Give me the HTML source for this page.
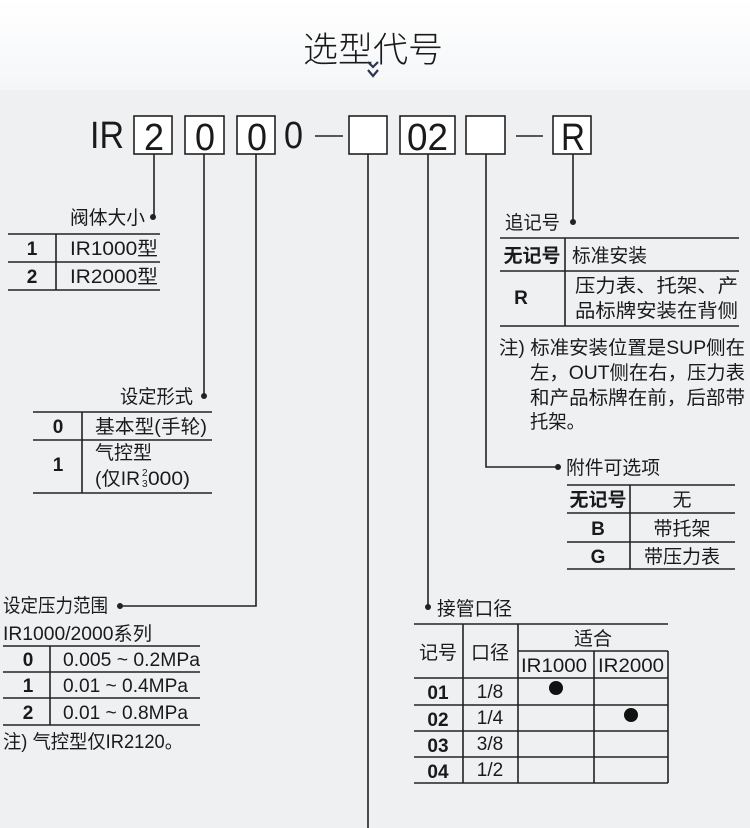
<!DOCTYPE html>
<html><head><meta charset="utf-8">
<style>
html,body{margin:0;padding:0;width:750px;height:828px;overflow:hidden;background:#eff0f2;}
svg{display:block;}
text{font-family:"Liberation Sans","Noto Sans CJK SC",sans-serif;fill:#1a1a1a;}
.b{font-weight:bold;}
</style></head>
<body>
<svg width="750" height="828" viewBox="0 0 750 828" xmlns="http://www.w3.org/2000/svg">
<defs>
<linearGradient id="tg" x1="0" y1="0" x2="0" y2="1">
<stop offset="0" stop-color="#ffffff"/><stop offset="1" stop-color="#f5f6f8"/>
</linearGradient>
</defs>
<rect x="0" y="0" width="750" height="90" fill="url(#tg)"/>
<rect x="0" y="90" width="750" height="738" fill="#eff0f2"/>

<text x="373" y="62" font-size="35" text-anchor="middle" style="font-family:'Noto Sans CJK SC',sans-serif;font-weight:300">选型代号</text>
<path d="M368,62 L373,67 L378,62" fill="none" stroke="#2a3550" stroke-width="2.2"/>
<path d="M368,70 L373,76 L378,70" fill="none" stroke="#2a3550" stroke-width="2.2"/>

<g fill="#fff" stroke="#222" stroke-width="1.6">
<rect x="134" y="116" width="38" height="38"/>
<rect x="185" y="116" width="39" height="38"/>
<rect x="237" y="116" width="38" height="38"/>
<rect x="349" y="116" width="38" height="38"/>
<rect x="400" y="116" width="55" height="38"/>
<rect x="466" y="116" width="39" height="38"/>
<rect x="553" y="116" width="38" height="38"/>
</g>
<g font-size="38">
<text x="90" y="148" textLength="34" lengthAdjust="spacingAndGlyphs">IR</text>
<text x="144" y="150" textLength="20" lengthAdjust="spacingAndGlyphs">2</text>
<text x="195" y="150" textLength="20" lengthAdjust="spacingAndGlyphs">0</text>
<text x="247" y="150" textLength="20" lengthAdjust="spacingAndGlyphs">0</text>
<text x="284" y="148" textLength="19" lengthAdjust="spacingAndGlyphs">0</text>
<text x="407" y="150" textLength="41" lengthAdjust="spacingAndGlyphs">02</text>
<text x="561" y="150" textLength="24" lengthAdjust="spacingAndGlyphs">R</text>
</g>
<g stroke="#222" stroke-width="1.6">
<line x1="315" y1="136" x2="343" y2="136"/>
<line x1="516" y1="136" x2="543" y2="136"/>
</g>

<g stroke="#222" stroke-width="1.6" fill="none">
<path d="M154,154 V217"/>
<path d="M204,154 V395"/>
<path d="M256,154 V606 H120"/>
<path d="M368,154 V828"/>
<path d="M428,154 V607"/>
<path d="M486,154 V467 H558"/>
<path d="M573,154 V222"/>
</g>
<g fill="#222">
<circle cx="153" cy="217" r="3"/>
<circle cx="204" cy="396" r="3"/>
<circle cx="120" cy="606" r="3"/>
<circle cx="428" cy="607" r="3"/>
<circle cx="558" cy="467" r="3"/>
<circle cx="573" cy="222" r="3"/>
</g>

<g font-size="19">
<!-- table 1 -->
<text x="70" y="224" textLength="75" lengthAdjust="spacingAndGlyphs">阀体大小</text>
<text x="32" y="255" class="b" text-anchor="middle">1</text>
<text x="32" y="283" class="b" text-anchor="middle">2</text>
<text x="70" y="255" textLength="88" lengthAdjust="spacingAndGlyphs">IR1000型</text>
<text x="70" y="283" textLength="88" lengthAdjust="spacingAndGlyphs">IR2000型</text>

<!-- table 2 -->
<text x="120" y="403" textLength="73" lengthAdjust="spacingAndGlyphs">设定形式</text>
<text x="58" y="433" class="b" text-anchor="middle">0</text>
<text x="58" y="471" class="b" text-anchor="middle">1</text>
<text x="95" y="433" textLength="112" lengthAdjust="spacingAndGlyphs">基本型(手轮)</text>
<text x="95" y="459" textLength="57" lengthAdjust="spacingAndGlyphs">气控型</text>
<text x="95" y="485" textLength="45" lengthAdjust="spacingAndGlyphs">(仅IR</text>
<text x="148" y="485" textLength="42" lengthAdjust="spacingAndGlyphs">000)</text>

<!-- table 3 -->
<text x="3" y="612" textLength="105" lengthAdjust="spacingAndGlyphs">设定压力范围</text>
<text x="3" y="640" textLength="149" lengthAdjust="spacingAndGlyphs">IR1000/2000系列</text>
<text x="28" y="666" class="b" text-anchor="middle">0</text>
<text x="28" y="692" class="b" text-anchor="middle">1</text>
<text x="28" y="719" class="b" text-anchor="middle">2</text>
<text x="63" y="666" textLength="137" lengthAdjust="spacingAndGlyphs">0.005 ~ 0.2MPa</text>
<text x="63" y="692" textLength="125" lengthAdjust="spacingAndGlyphs">0.01 ~ 0.4MPa</text>
<text x="63" y="719" textLength="125" lengthAdjust="spacingAndGlyphs">0.01 ~ 0.8MPa</text>
<text x="3" y="748" textLength="180" lengthAdjust="spacingAndGlyphs">注) 气控型仅IR2120。</text>

<!-- 追记号 -->
<text x="505" y="229" textLength="55" lengthAdjust="spacingAndGlyphs">追记号</text>
<text x="532" y="262" class="b" text-anchor="middle">无记号</text>
<text x="572" y="262" textLength="75" lengthAdjust="spacingAndGlyphs">标准安装</text>
<text x="521" y="304" class="b" text-anchor="middle">R</text>
<text x="575" y="292" textLength="163" lengthAdjust="spacingAndGlyphs">压力表、托架、产</text>
<text x="575" y="317" textLength="163" lengthAdjust="spacingAndGlyphs">品标牌安装在背侧</text>
<text x="499" y="354" textLength="246" lengthAdjust="spacingAndGlyphs">注) 标准安装位置是SUP侧在</text>
<text x="530" y="379" textLength="215" lengthAdjust="spacingAndGlyphs">左，OUT侧在右，压力表</text>
<text x="530" y="404" textLength="215" lengthAdjust="spacingAndGlyphs">和产品标牌在前，后部带</text>
<text x="530" y="428" textLength="55" lengthAdjust="spacingAndGlyphs">托架。</text>

<!-- 附件可选项 -->
<text x="566" y="474" textLength="94" lengthAdjust="spacingAndGlyphs">附件可选项</text>
<text x="598" y="506" class="b" text-anchor="middle">无记号</text>
<text x="682" y="506" text-anchor="middle">无</text>
<text x="598" y="535" class="b" text-anchor="middle">B</text>
<text x="682" y="535" text-anchor="middle">带托架</text>
<text x="598" y="563" class="b" text-anchor="middle">G</text>
<text x="682" y="563" text-anchor="middle">带压力表</text>

<!-- 接管口径 -->
<text x="437" y="615" textLength="75" lengthAdjust="spacingAndGlyphs">接管口径</text>
<text x="438" y="659" text-anchor="middle">记号</text>
<text x="490" y="659" text-anchor="middle">口径</text>
<text x="593" y="645" text-anchor="middle">适合</text>
<text x="521" y="672" textLength="66" lengthAdjust="spacingAndGlyphs">IR1000</text>
<text x="598" y="672" textLength="66" lengthAdjust="spacingAndGlyphs">IR2000</text>
<text x="438" y="699" class="b" text-anchor="middle">01</text>
<text x="438" y="726" class="b" text-anchor="middle">02</text>
<text x="438" y="752" class="b" text-anchor="middle">03</text>
<text x="438" y="778" class="b" text-anchor="middle">04</text>
<text x="490" y="698" text-anchor="middle">1/8</text>
<text x="490" y="724" text-anchor="middle">1/4</text>
<text x="490" y="750" text-anchor="middle">3/8</text>
<text x="490" y="776" text-anchor="middle">1/2</text>
</g>
<text x="142" y="476" font-size="10">2</text>
<text x="142" y="487" font-size="10">3</text>

<g stroke="#222" stroke-width="1.6">
<line x1="8" y1="234" x2="160" y2="234"/>
<line x1="8" y1="262" x2="160" y2="262"/>
<line x1="8" y1="290" x2="160" y2="290"/>
<line x1="56" y1="234" x2="56" y2="290"/>
<line x1="33" y1="412" x2="212" y2="412"/>
<line x1="33" y1="440" x2="212" y2="440"/>
<line x1="33" y1="493" x2="212" y2="493"/>
<line x1="82" y1="412" x2="82" y2="493"/>
<line x1="3" y1="646" x2="200" y2="646"/>
<line x1="3" y1="672" x2="200" y2="672"/>
<line x1="3" y1="698" x2="200" y2="698"/>
<line x1="3" y1="725" x2="200" y2="725"/>
<line x1="50" y1="646" x2="50" y2="725"/>
<line x1="500" y1="238" x2="739" y2="238"/>
<line x1="500" y1="271" x2="739" y2="271"/>
<line x1="500" y1="326" x2="739" y2="326"/>
<line x1="565" y1="238" x2="565" y2="326"/>
<line x1="567" y1="485" x2="735" y2="485"/>
<line x1="567" y1="513" x2="735" y2="513"/>
<line x1="567" y1="542" x2="735" y2="542"/>
<line x1="567" y1="569" x2="735" y2="569"/>
<line x1="630" y1="485" x2="630" y2="569"/>
<line x1="414" y1="624" x2="668" y2="624"/>
<line x1="518" y1="651" x2="668" y2="651"/>
<line x1="414" y1="678" x2="668" y2="678"/>
<line x1="414" y1="705" x2="668" y2="705"/>
<line x1="414" y1="731" x2="668" y2="731"/>
<line x1="414" y1="757" x2="668" y2="757"/>
<line x1="414" y1="783" x2="668" y2="783"/>
<line x1="463" y1="624" x2="463" y2="783"/>
<line x1="518" y1="624" x2="518" y2="783"/>
<line x1="594" y1="651" x2="594" y2="783"/>
<line x1="668" y1="651" x2="668" y2="783"/>
</g>
<circle cx="556" cy="688" r="7" fill="#111"/>
<circle cx="631" cy="715" r="7" fill="#111"/>
</svg>
</body></html>
